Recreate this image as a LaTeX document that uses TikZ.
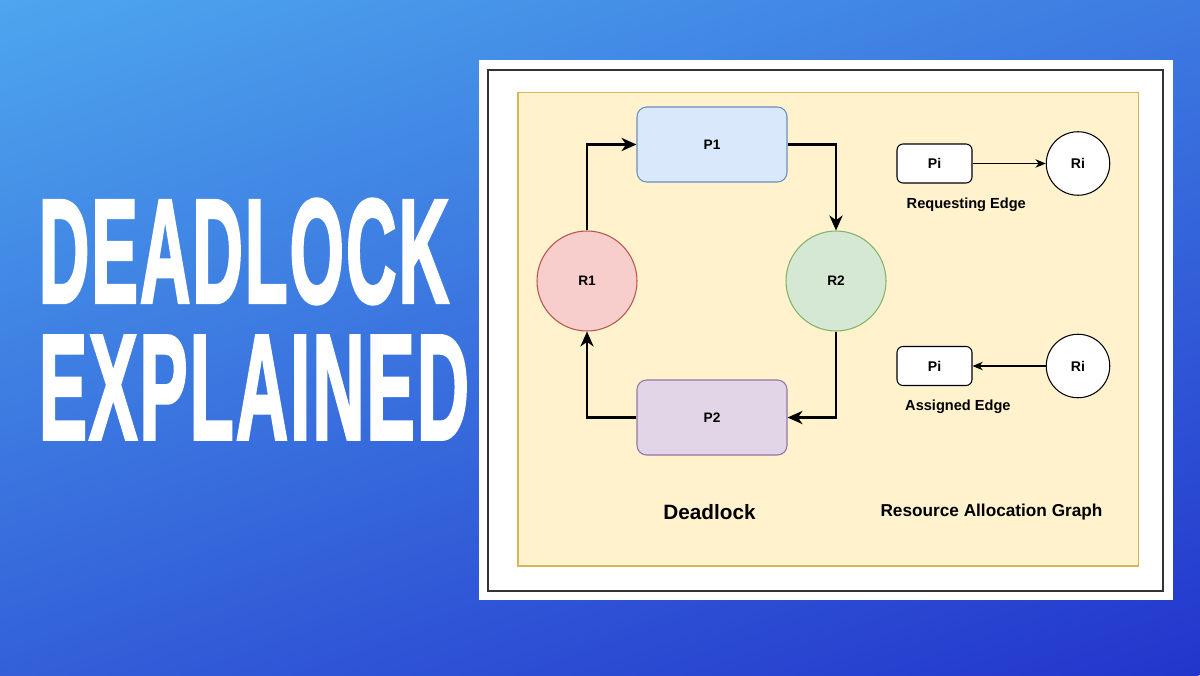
\documentclass[tikz,border=0pt]{standalone}
\usepackage{fontspec}
\setmainfont{Liberation Sans}
\newfontfamily\titlefont{Liberation Sans}[BoldFeatures={FakeBold=2.6}, LetterSpace=3]
\usepackage{tikz}
\usetikzlibrary{arrows.meta,positioning}

\definecolor{bgTop}{HTML}{4DA6EE}
\definecolor{bgBot}{HTML}{2335CC}
\definecolor{noteFill}{HTML}{FFF2CC}
\definecolor{noteLine}{HTML}{D6B656}
\definecolor{blueFill}{HTML}{DAE8FC}
\definecolor{blueLine}{HTML}{6C8EBF}
\definecolor{purpleFill}{HTML}{E1D5E7}
\definecolor{purpleLine}{HTML}{9673A6}
\definecolor{redFill}{HTML}{F8CECC}
\definecolor{redLine}{HTML}{B85450}
\definecolor{greenFill}{HTML}{D5E8D4}
\definecolor{greenLine}{HTML}{82B366}

\tikzset{
  proc/.style={draw, rounded corners=5.5pt, line width=0.6pt,
    minimum width=3cm, minimum height=1.5cm,
    font=\bfseries\fontsize{7.8}{9}\selectfont},
  res/.style={draw, circle, line width=0.6pt, minimum size=2cm,
    inner sep=0pt, font=\bfseries\fontsize{7.8}{9}\selectfont},
  keybox/.style={draw, fill=white, rounded corners=3.4pt, line width=0.6pt,
    minimum width=1.5cm, minimum height=0.78cm,
    font=\bfseries\fontsize{8}{9}\selectfont},
  keyres/.style={draw, fill=white, circle, line width=0.6pt,
    minimum size=1.27cm, inner sep=0pt,
    font=\bfseries\fontsize{8}{9}\selectfont},
  flow/.style={line width=1.35pt,
    -{Stealth[length=8.5pt, width=7.5pt, inset=2.6pt]}},
  keyflow/.style={line width=0.6pt,
    -{Stealth[length=5.8pt, width=4.8pt, inset=1.8pt]}},
  title/.style={text=white, inner sep=0pt, font=\titlefont\bfseries}
}

\begin{document}
\begin{tikzpicture}

  % Background
  \useasboundingbox (0,0) rectangle (24,13.5);
  \begin{scope}
    \clip (0,0) rectangle (24,13.5);
    \begin{scope}[transform canvas={rotate around={19:(12,6.75)}}]
      \shade[top color=bgTop, bottom color=bgBot] (-2,-3.54) rectangle (26,17.04);
    \end{scope}
  \end{scope}
  \fill[white] (9.58,1.5) rectangle (23.46,12.3);
  \draw[line width=0.6pt, black!80] (9.76,1.68) rectangle (23.26,12.1);
  \draw[line width=0.6pt, noteLine, fill=noteFill] (10.36,2.18) rectangle (22.77,11.65);

  % Title
  \node[title] (titleA) at (4.88,8.47) {\resizebox{8.2cm}{2.06cm}{DEADLOCK}};
  \node[title] (titleB) at (5.08,5.75) {\resizebox{8.6cm}{2.06cm}{EXPLAINED}};

  % Deadlock cycle
  \node[proc, fill=blueFill, draw=blueLine] (P1) at (14.24,10.61) {P1};
  \node[proc, fill=purpleFill, draw=purpleLine] (P2) at (14.24,5.15) {P2};
  \node[res, fill=redFill, draw=redLine] (R1) at (11.74,7.88) {R1};
  \node[res, fill=greenFill, draw=greenLine] (R2) at (16.72,7.88) {R2};

  \draw[flow] (R1.north) |- (P1.west);
  \draw[flow] (P1.east) -| (R2.north);
  \draw[flow] (R2.south) |- (P2.east);
  \draw[flow] (P2.west) -| (R1.south);

  % Legend
  \node[keybox] (piReq) at (18.69,10.23) {Pi};
  \node[keyres] (riReq) at (21.56,10.23) {Ri};
  \draw[keyflow] (piReq) -- (riReq);
  \node[anchor=west, font=\bfseries\fontsize{8.3}{10}\selectfont] (reqText)
    at (18.01,9.40) {Requesting Edge};

  \node[keybox] (piAsg) at (18.69,6.18) {Pi};
  \node[keyres] (riAsg) at (21.56,6.18) {Ri};
  \draw[keyflow] (riAsg) -- (piAsg);
  \node[anchor=west, font=\bfseries\fontsize{8.3}{10}\selectfont] (asgText)
    at (17.98,5.36) {Assigned Edge};

  % Captions
  \node[font=\bfseries\fontsize{11.8}{14}\selectfont] (capDead) at (14.19,3.26) {Deadlock};
  \node[font=\bfseries\fontsize{9.8}{12}\selectfont] (capRag) at (19.83,3.26) {Resource Allocation Graph};

\end{tikzpicture}
\end{document}
